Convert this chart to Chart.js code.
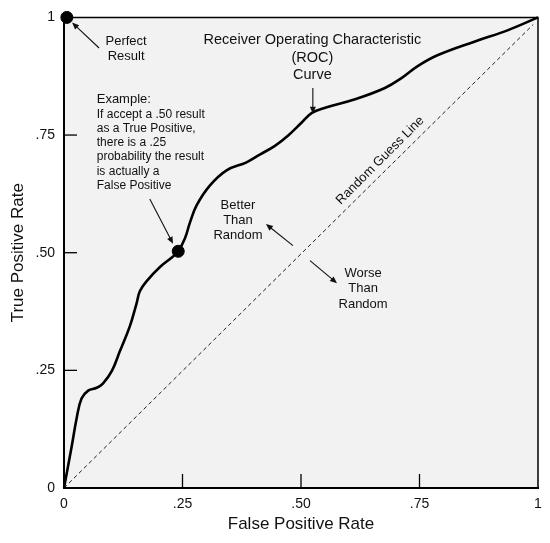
<!DOCTYPE html>
<html>
<head>
<meta charset="utf-8">
<script src="https://cdn.jsdelivr.net/npm/chart.js@4.4.0/dist/chart.umd.min.js"></script>
<style>
  html, body { margin: 0; padding: 0; background: #fff; }
</style>
</head>
<body>
<canvas id="rocChart" width="550" height="543"></canvas>
<script>
// ROC curve
const fprValues = [0, 0.016, 0.027, 0.037, 0.051, 0.069, 0.082, 0.101, 0.118, 0.139, 0.153, 0.160, 0.174,
  0.203, 0.230, 0.241, 0.255, 0.266, 0.280, 0.308, 0.343, 0.385, 0.414, 0.445, 0.473, 0.501, 0.523,
  0.551, 0.614, 0.677, 0.712, 0.747, 0.789, 0.867, 0.937, 1.0];
const tprValues = [0, 0.087, 0.150, 0.190, 0.207, 0.213, 0.222, 0.249, 0.291, 0.344, 0.392, 0.418, 0.439,
  0.470, 0.492, 0.503, 0.530, 0.565, 0.601, 0.643, 0.675, 0.692, 0.709, 0.727, 0.749, 0.776, 0.797,
  0.808, 0.826, 0.850, 0.871, 0.897, 0.920, 0.949, 0.973, 1.0];

// random guess diagonal
const guessX = [0, 0.99];
const guessY = [0, 0.985];

// "perfect result" and the example point
const markerX = [0.006, 0.241];
const markerY = [1.0, 0.503];

const tickValues = [0, 0.25, 0.5, 0.75, 1];
const tickLabels = ['0', '.25', '.50', '.75', '1'];
const innerTicks = [0.25, 0.5, 0.75];

const FONT = '"Liberation Sans", Arial, sans-serif';
const INK = '#111';

// text notes, positions in data units
const notes = [
  { lines: ['Receiver Operating Characteristic', '(ROC)', 'Curve'], x: 0.524, y: [0.951, 0.914, 0.878], size: 14.5, align: 'center' },
  { lines: ['Perfect', 'Result'], x: 0.131, y: [0.949, 0.918], size: 13, align: 'center' },
  { lines: ['Example:'], x: 0.069, y: [0.825], size: 13, align: 'left' },
  { lines: ['If accept a .50 result', 'as a True Positive,', 'there is a .25', 'probability the result', 'is actually a', 'False Positive'],
    x: 0.069, y: [0.793, 0.763, 0.733, 0.703, 0.673, 0.643], size: 12, align: 'left' },
  { lines: ['Better', 'Than', 'Random'], x: 0.367, y: [0.601, 0.568, 0.536], size: 13, align: 'center' },
  { lines: ['Worse', 'Than', 'Random'], x: 0.631, y: [0.456, 0.424, 0.390], size: 13, align: 'center' }
];

const arrows = [
  { from: [0.074, 0.935], to: [0.017, 0.989] },
  { from: [0.525, 0.850], to: [0.525, 0.795] },
  { from: [0.181, 0.614], to: [0.230, 0.519] },
  { from: [0.483, 0.515], to: [0.426, 0.561] },
  { from: [0.519, 0.483], to: [0.576, 0.435] }
];

const guessLabel = { text: 'Random Guess Line', x: 0.667, y: 0.696, size: 13 };

const toPoints = (xs, ys) => xs.map((x, i) => ({ x: x, y: ys[i] }));

const drawArrow = (ctx, x1, y1, x2, y2) => {
  const ang = Math.atan2(y2 - y1, x2 - x1);
  const len = 7, half = 3;
  ctx.beginPath();
  ctx.moveTo(x1, y1);
  ctx.lineTo(x2 - Math.cos(ang) * len * 0.8, y2 - Math.sin(ang) * len * 0.8);
  ctx.stroke();
  ctx.beginPath();
  ctx.moveTo(x2, y2);
  ctx.lineTo(x2 - Math.cos(ang) * len - Math.sin(ang) * half, y2 - Math.sin(ang) * len + Math.cos(ang) * half);
  ctx.lineTo(x2 - Math.cos(ang) * len + Math.sin(ang) * half, y2 - Math.sin(ang) * len - Math.cos(ang) * half);
  ctx.closePath();
  ctx.fill();
};

const rocExtras = {
  id: 'rocExtras',
  beforeDraw(chart) {
    const { ctx, chartArea: a } = chart;
    ctx.save();
    ctx.fillStyle = '#fff';
    ctx.fillRect(0, 0, chart.width, chart.height);
    ctx.fillStyle = '#f2f2f2';
    ctx.fillRect(a.left, a.top, a.right - a.left, a.bottom - a.top);
    ctx.restore();
  },
  afterDatasetsDraw(chart) {
    const { ctx, chartArea: a, scales } = chart;
    const sx = v => scales.x.getPixelForValue(v);
    const sy = v => scales.y.getPixelForValue(v);
    ctx.save();

    // thin top and right frame
    ctx.strokeStyle = '#000';
    ctx.lineWidth = 1.5;
    ctx.beginPath();
    ctx.moveTo(a.left, a.top);
    ctx.lineTo(a.right, a.top);
    ctx.lineTo(a.right, a.bottom);
    ctx.stroke();

    // tick marks pointing into the plot
    ctx.lineWidth = 1.3;
    innerTicks.forEach(v => {
      ctx.beginPath();
      ctx.moveTo(sx(v), a.bottom);
      ctx.lineTo(sx(v), a.bottom - 14);
      ctx.stroke();
      ctx.beginPath();
      ctx.moveTo(a.left, sy(v));
      ctx.lineTo(a.left + 13, sy(v));
      ctx.stroke();
    });

    // notes
    ctx.fillStyle = INK;
    ctx.textBaseline = 'middle';
    notes.forEach(n => {
      ctx.font = n.size + 'px ' + FONT;
      ctx.textAlign = n.align;
      n.lines.forEach((line, i) => ctx.fillText(line, sx(n.x), sy(n.y[i])));
    });

    ctx.save();
    ctx.translate(sx(guessLabel.x), sy(guessLabel.y));
    ctx.rotate(-Math.PI / 4);
    ctx.font = guessLabel.size + 'px ' + FONT;
    ctx.textAlign = 'center';
    ctx.fillText(guessLabel.text, 0, 0);
    ctx.restore();

    // arrows
    ctx.strokeStyle = INK;
    ctx.fillStyle = INK;
    ctx.lineWidth = 1.1;
    arrows.forEach(ar => drawArrow(ctx, sx(ar.from[0]), sy(ar.from[1]), sx(ar.to[0]), sy(ar.to[1])));

    ctx.restore();
  }
};

const axisCommon = {
  type: 'linear',
  min: 0,
  max: 1,
  afterBuildTicks: scale => { scale.ticks = tickValues.map(v => ({ value: v })); },
  grid: { display: true, drawOnChartArea: false, drawTicks: false },
  border: { display: true, color: '#000', width: 2 }
};

const ctx = document.getElementById('rocChart').getContext('2d');
const rocChart = new Chart(ctx, {
  type: 'line',
  data: {
    datasets: [
      {
        label: 'ROC',
        data: toPoints(fprValues, tprValues),
        borderColor: '#000',
        borderWidth: 2.6,
        pointRadius: 0,
        tension: 0.4,
        fill: false,
        clip: false
      },
      {
        label: 'Random guess',
        data: toPoints(guessX, guessY),
        borderColor: '#222',
        borderWidth: 1,
        borderDash: [4, 3],
        pointRadius: 0,
        fill: false
      },
      {
        label: 'Points',
        type: 'scatter',
        data: toPoints(markerX, markerY),
        pointRadius: 6,
        pointBackgroundColor: '#000',
        pointBorderColor: '#000',
        showLine: false,
        clip: false
      }
    ]
  },
  options: {
    responsive: false,
    animation: false,
    layout: { padding: { top: 14, right: 12, left: 0, bottom: 0 } },
    plugins: { legend: { display: false }, tooltip: { enabled: false } },
    scales: {
      x: Object.assign({}, axisCommon, {
        afterFit: s => { s.height = 55; },
        ticks: {
          padding: 8,
          color: INK,
          font: { family: FONT, size: 14 },
          maxRotation: 0,
          callback: (v, i) => tickLabels[i]
        },
        title: {
          display: true,
          text: 'False Positive Rate',
          color: INK,
          font: { family: FONT, size: 17 },
          padding: { top: 0, bottom: 8 }
        }
      }),
      y: Object.assign({}, axisCommon, {
        afterFit: s => { s.width = 64; },
        ticks: {
          padding: 9,
          color: INK,
          font: { family: FONT, size: 14 },
          callback: (v, i) => tickLabels[i]
        },
        title: {
          display: true,
          text: 'True Positive Rate',
          color: INK,
          font: { family: FONT, size: 17 },
          padding: { top: 8, bottom: 0 }
        }
      })
    }
  },
  plugins: [rocExtras]
});
</script>
</body>
</html>
